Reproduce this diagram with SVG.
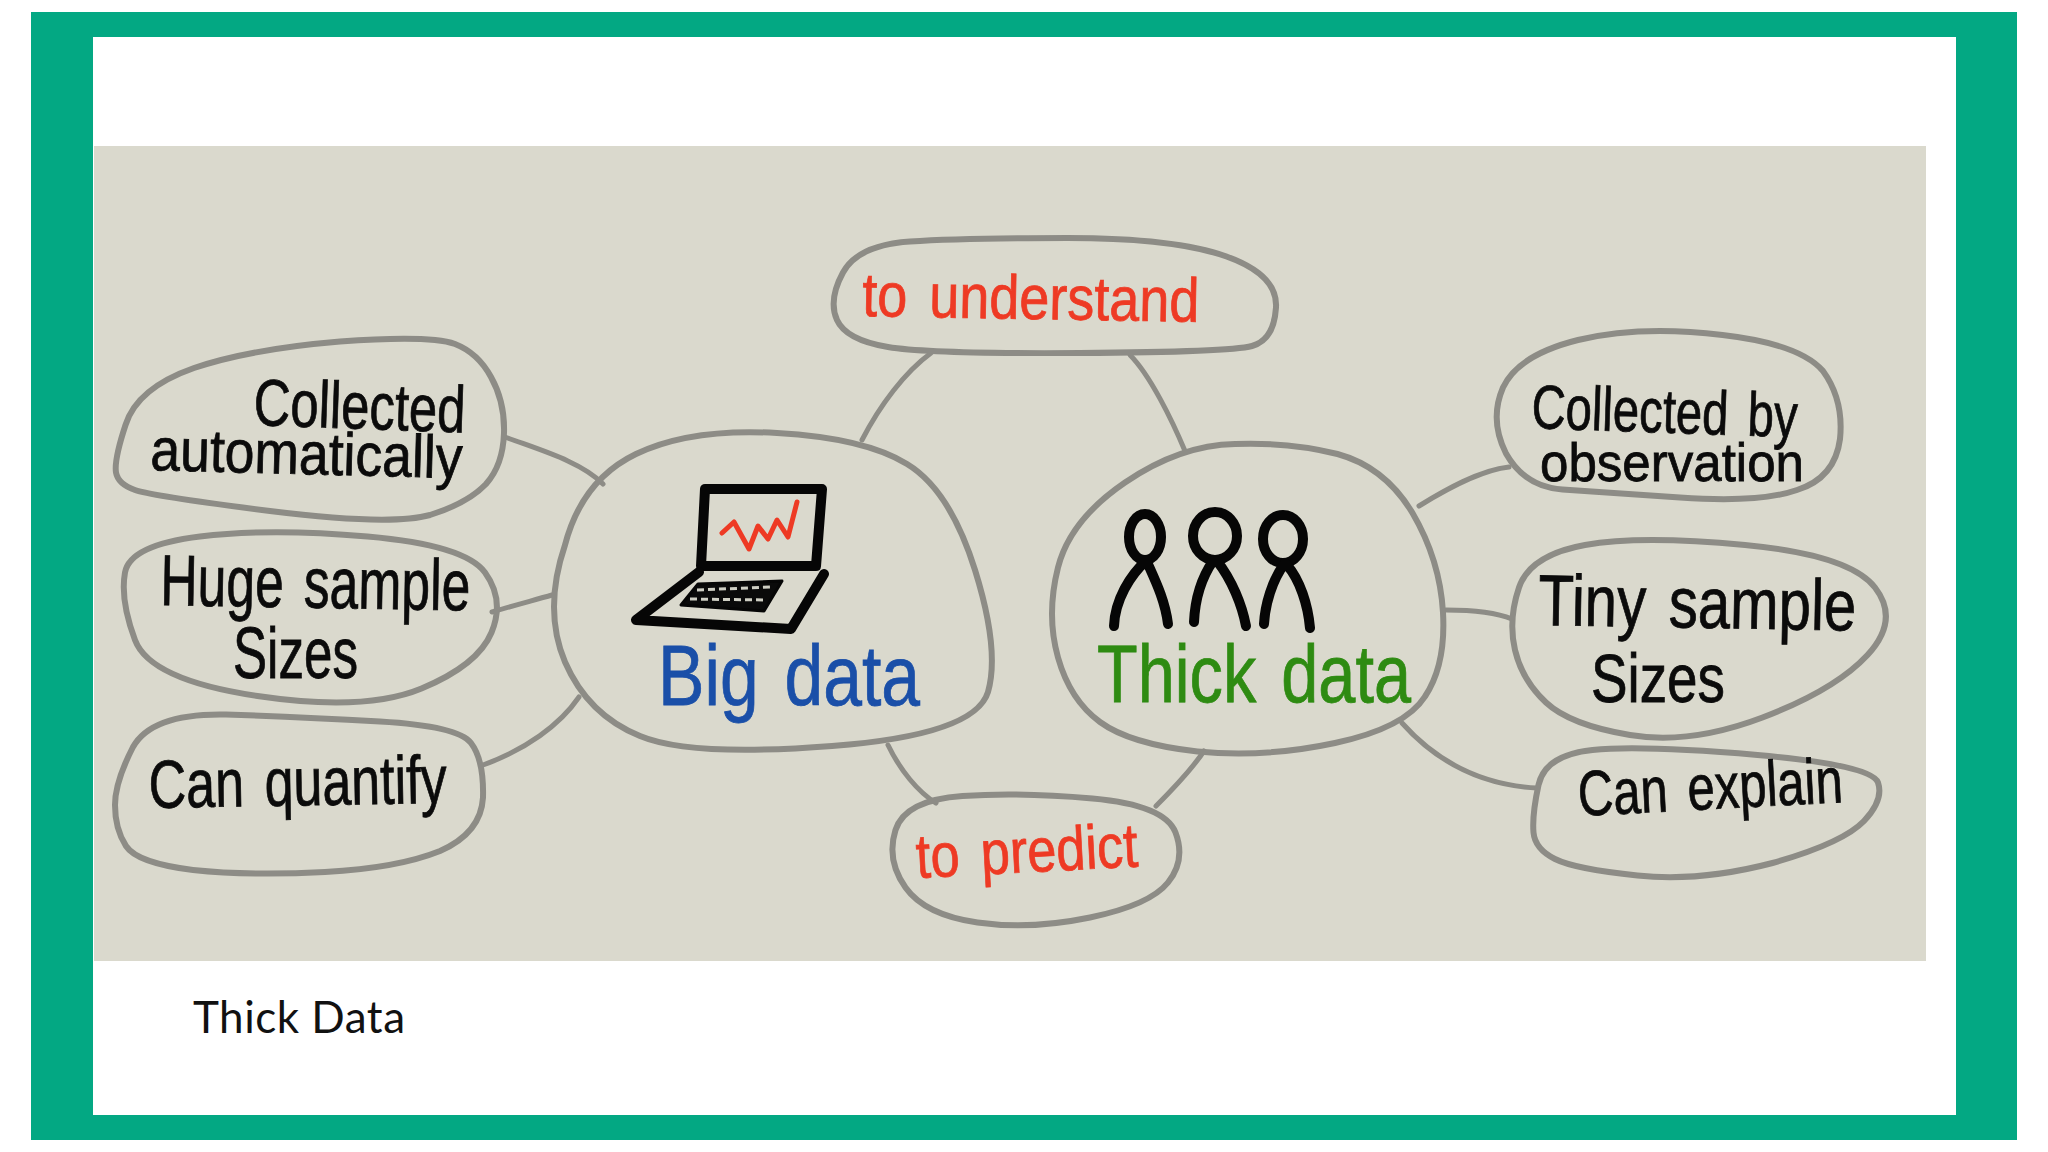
<svg xmlns="http://www.w3.org/2000/svg" width="2048" height="1152" viewBox="0 0 2048 1152">
<style>
.b{fill:none;stroke:#8d8c86;stroke-width:6;stroke-linecap:round;stroke-linejoin:round}
.c{fill:none;stroke:#8d8c86;stroke-width:5;stroke-linecap:round}
.t{font-family:"Liberation Sans",sans-serif;fill:#0b0b0b;stroke:#0b0b0b;stroke-width:.8;word-spacing:8px}
.r{fill:#ee3a24;stroke:#ee3a24}
.k{fill:none;stroke:#060606;stroke-linecap:round;stroke-linejoin:round}
</style>
<rect width="2048" height="1152" fill="#fff"/>
<path d="M31,12H2017V1140H31ZM93,37V1115H1956V37Z" fill="#03a883" fill-rule="evenodd"/>
<rect x="94" y="146" width="1832" height="815" fill="#dad9cd"/>
<g id="connectors">
<path class="c" d="M931,353C905,372 880,405 862,440"/>
<path class="c" d="M1130,355C1150,375 1172,420 1185,451"/>
<path class="c" d="M888,745C900,770 918,792 936,803"/>
<path class="c" d="M1204,751C1190,772 1170,792 1156,806"/>
<path class="c" d="M505,437C540,450 582,462 603,484"/>
<path class="c" d="M492,612C515,605 535,600 552,595"/>
<path class="c" d="M483,765C525,750 560,725 579,697"/>
<path class="c" d="M1419,506C1445,490 1480,470 1509,467"/>
<path class="c" d="M1446,610C1475,610 1495,612 1512,619"/>
<path class="c" d="M1402,723C1435,760 1480,785 1537,788"/>
</g>
<g id="collected-automatically">
<path class="b" d="M125.5,425Q137,388 194,368Q250,349 340,341.5Q430,335 455,344Q478,353 491,377Q505,402 504,433Q503,465 486,484Q468,503 430,515Q390,526 270,511Q152,496 135,490Q118,484 116,472.5Q114,460 125.5,425Z"/>
<text class="t" x="253" y="425" font-size="66" textLength="212" lengthAdjust="spacingAndGlyphs" transform="rotate(2 253 425)">Collected</text>
<text class="t" x="150" y="470" font-size="60" textLength="312" lengthAdjust="spacingAndGlyphs" transform="rotate(1.5 150 470)">automatically</text>
</g>
<g id="huge-sample-sizes">
<path class="b" d="M125,572.5Q130,545 200,536.5Q270,528 367.5,536.5Q465,545 485,572.5Q505,600 491.5,632.5Q478,665 421.5,688.5Q365,712 257.5,696Q150,680 135,640Q120,600 125,572.5Z"/>
<text class="t" x="160" y="605" font-size="72" textLength="310" lengthAdjust="spacingAndGlyphs" transform="rotate(1 160 605)">Huge sample</text>
<text class="t" x="233" y="678" font-size="72" textLength="125" lengthAdjust="spacingAndGlyphs">Sizes</text>
</g>
<g id="can-quantify">
<path class="b" d="M133,747Q152,713 226,714.5Q300,717 380,721.5Q458,726 471,743Q484,760 483,797.5Q481,833 440,851Q398,868 325,872Q250,876 193,870Q137,863 126,846Q115,829 115,805Q115,782 133,747Z"/>
<text class="t" x="149" y="808" font-size="68" textLength="298" lengthAdjust="spacingAndGlyphs" transform="rotate(-1 149 808)">Can quantify</text>
</g>
<g id="big-data">
<path class="b" d="M565,545Q582,480 636,454Q690,428 777,433Q865,438 907,464Q950,490 975,570Q1000,650 988,692Q975,735 832,746Q690,757 640,736Q588,715 565,662Q543,610 565,545Z"/>
<path class="k" stroke-width="10" d="M705,489L822,489L816,566L701,566Z"/>
<path class="k" stroke-width="10" d="M699,572L636,620L791,629L824,574"/>
<path fill="#0a0a0a" stroke="#060606" stroke-width="3" stroke-linejoin="round" d="M698,584L782,581L764,611L681,605Z"/>
<path stroke="#cfcfc4" stroke-width="3" stroke-dasharray="7 4" fill="none" d="M697,590L772,587M690,599L766,600"/>
<path fill="none" stroke="#ee3a24" stroke-width="5" stroke-linejoin="round" stroke-linecap="round" d="M722,533L734,522L749,549L758,526L768,539L777,520L788,537L797,502"/>
<text class="t" x="658" y="705" font-size="86" textLength="262" lengthAdjust="spacingAndGlyphs" style="fill:#1a4fa8;stroke:#1a4fa8">Big data</text>
</g>
<g id="to-understand">
<path class="b" d="M843,272.5Q858,245 910,241.5Q960,238 1067.5,238Q1175,238 1226.5,256.5Q1278,275 1276,307.5Q1274,340 1252,346Q1230,352 1080,353Q930,354 888,347Q846,340 837,320Q828,300 843,272.5Z"/>
<text class="t r" x="862" y="316" font-size="62" textLength="337" lengthAdjust="spacingAndGlyphs" transform="rotate(1 862 316)">to understand</text>
</g>
<g id="to-predict">
<path class="b" d="M895.5,830Q905,800 962.5,796Q1020,792 1092.5,798.5Q1165,805 1175.5,832.5Q1186,860 1168,882.5Q1150,905 1090,917.5Q1030,930 977.5,922.5Q925,915 905.5,887.5Q886,860 895.5,830Z"/>
<text class="t r" x="917" y="878" font-size="62" textLength="222" lengthAdjust="spacingAndGlyphs" transform="rotate(-3 917 878)">to predict</text>
</g>
<g id="thick-data">
<path class="b" d="M1058,567.5Q1070,520 1125,482.5Q1180,445 1235,444Q1290,442 1337.5,454Q1385,467 1412.5,513Q1440,560 1443,612.5Q1446,665 1425,696.5Q1405,728 1335,743Q1265,758 1197.5,751.5Q1130,744 1100,722Q1070,700 1058,657.5Q1046,615 1058,567.5Z"/>
<g class="k" stroke-width="10">
<ellipse cx="1145" cy="537" rx="16" ry="23"/><path d="M1147,560C1130,575 1115,600 1114,626M1147,562C1155,580 1165,600 1168,624"/>
<ellipse cx="1215" cy="536" rx="22" ry="24"/><path d="M1213,561C1200,580 1195,600 1194,622M1217,561C1232,580 1242,605 1246,626"/>
<ellipse cx="1283" cy="539" rx="20" ry="24"/><path d="M1285,563C1272,580 1265,605 1264,624M1287,565C1300,580 1308,605 1310,628"/>
</g>
<text class="t" x="1097" y="702" font-size="82" textLength="314" lengthAdjust="spacingAndGlyphs" style="fill:#2e8b12;stroke:#2e8b12">Thick data</text>
</g>
<g id="collected-by-observation">
<path class="b" d="M1503,387.5Q1518,355 1578,340Q1640,325 1722.5,335Q1800,344 1823,371Q1844,400 1840,439Q1835,478 1797,490Q1760,503 1680,497.5Q1600,492 1562.5,489.5Q1525,487 1506,453.5Q1489,420 1503,387.5Z"/>
<text class="t" x="1531" y="428" font-size="62" textLength="266" lengthAdjust="spacingAndGlyphs" transform="rotate(2 1531 428)">Collected by</text>
<text class="t" x="1540" y="481" font-size="54" textLength="264" lengthAdjust="spacingAndGlyphs">observation</text>
</g>
<g id="tiny-sample-sizes">
<path class="b" d="M1519,587.5Q1530,555 1585,545Q1640,535 1745,545Q1850,555 1875,587.5Q1900,620 1867.5,655Q1835,690 1762.5,717.5Q1690,745 1630,735Q1570,725 1546,702.5Q1522,680 1515,650Q1508,620 1519,587.5Z"/>
<text class="t" x="1538" y="625" font-size="72" textLength="318" lengthAdjust="spacingAndGlyphs" transform="rotate(1 1538 625)">Tiny sample</text>
<text class="t" x="1591" y="702" font-size="68" textLength="134" lengthAdjust="spacingAndGlyphs">Sizes</text>
</g>
<g id="can-explain">
<path class="b" d="M1538.5,785Q1545,755 1592.5,750Q1640,745 1757.5,755Q1872,765 1878,782.5Q1884,800 1864,821Q1843,843 1772.5,863Q1700,882 1637.5,875.5Q1575,869 1555,859Q1535,849 1533.5,832.5Q1532,815 1538.5,785Z"/>
<text class="t" x="1579" y="816" font-size="64" textLength="265" lengthAdjust="spacingAndGlyphs" transform="rotate(-3 1579 816)">Can explain</text>
</g>
<text x="193" y="1033" font-family="Lato,'Open Sans',sans-serif" font-size="44" fill="#111" textLength="212">Thick Data</text>
</svg>
